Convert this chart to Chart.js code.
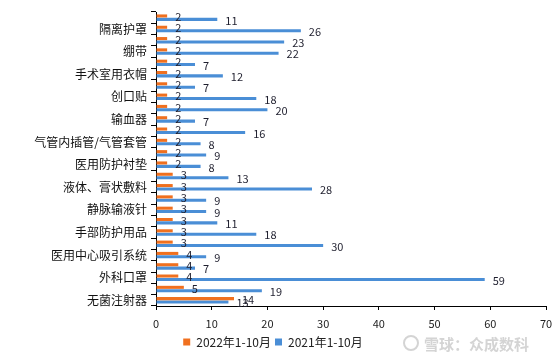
<!DOCTYPE html>
<html>
<head>
<meta charset="utf-8">
<script src="https://cdn.jsdelivr.net/npm/chart.js@4.4.1/dist/chart.umd.min.js"></script>
<style>
  html, body { margin: 0; padding: 0; background: #fff; }
  #wrap { width: 555px; height: 362px; }
</style>
</head>
<body>
<div id="wrap"><canvas id="chart" width="555" height="362"></canvas></div>
<script>
// 类别（自上而下），只有隔行的名称可读，其余留空
const categories = [
  "", "隔离护罩", "", "绷带", "", "手术室用衣帽", "", "创口贴", "", "输血器",
  "", "气管内插管/气管套管", "", "医用防护衬垫", "", "液体、膏状敷料", "", "静脉输液针",
  "", "手部防护用品", "", "医用中心吸引系统", "", "外科口罩", "", "无菌注射器"
];
const series2022 = [2, 2, 2, 2, 2, 2, 2, 2, 2, 2, 2, 2, 2, 2, 3, 3, 3, 3, 3, 3, 3, 4, 4, 4, 5, 14];
const series2021 = [11, 26, 23, 22, 7, 12, 7, 18, 20, 7, 16, 8, 9, 8, 13, 28, 9, 9, 11, 18, 30, 9, 7, 59, 19, 13];
const xTicks = [0, 10, 20, 30, 40, 50, 60, 70];

const FONT = "'Noto Sans CJK SC', 'Noto Sans', sans-serif";

// 数值标签
const valueLabels = {
  id: "valueLabels",
  afterDatasetsDraw(chart) {
    const ctx = chart.ctx;
    ctx.save();
    ctx.font = "11px " + FONT;
    ctx.fillStyle = "#1f1f2e";
    ctx.textAlign = "left";
    ctx.textBaseline = "middle";
    chart.data.datasets.forEach((ds, i) => {
      const meta = chart.getDatasetMeta(i);
      meta.data.forEach((bar, j) => {
        ctx.fillText(String(ds.data[j]), bar.x + 8, bar.y + 1);
      });
    });
    ctx.restore();
  }
};

// 右下角水印
const watermark = {
  id: "watermark",
  afterDraw(chart) {
    const ctx = chart.ctx;
    ctx.save();
    ctx.fillStyle = "#d4d4d4";
    ctx.strokeStyle = "#d4d4d4";
    ctx.lineWidth = 2;
    ctx.beginPath();
    ctx.arc(411, 343, 7, 0, Math.PI * 2);
    ctx.stroke();
    ctx.font = "bold 15px " + FONT;
    ctx.textBaseline = "middle";
    ctx.fillText("雪球：众成数科", 424, 344);
    ctx.restore();
  }
};

new Chart(document.getElementById("chart").getContext("2d"), {
  type: "bar",
  data: {
    labels: categories,
    datasets: [
      {
        label: "2022年1-10月",
        data: series2022,
        backgroundColor: "#f0701f",
        barPercentage: 0.9,
        categoryPercentage: 0.6,
      },
      {
        label: "2021年1-10月",
        data: series2021,
        backgroundColor: "#4a8ed6",
        barPercentage: 0.9,
        categoryPercentage: 0.6,
      },
    ],
  },
  options: {
    indexAxis: "y",
    responsive: false,
    animation: false,
    layout: { padding: { top: 12, right: 9, bottom: 4, left: 0 } },
    plugins: {
      legend: {
        position: "bottom",
        labels: {
          boxWidth: 7,
          boxHeight: 7,
          padding: 4,
          color: "#222",
          font: { family: FONT, size: 12 },
        },
      },
      tooltip: { enabled: false },
    },
    scales: {
      x: {
        min: 0,
        max: 70,
        afterBuildTicks(scale) {
          scale.ticks = xTicks.map((v) => ({ value: v }));
        },
        afterFit(scale) {
          scale.height = 26;
          scale.paddingLeft = 0;
          scale.paddingRight = 0;
        },
        grid: { drawOnChartArea: false, drawTicks: true, tickLength: 4, tickColor: "#000" },
        border: { color: "#000", width: 1 },
        ticks: { color: "#222", padding: 7, font: { family: FONT, size: 11 } },
      },
      y: {
        afterFit(scale) { scale.width = 156; },
        grid: { drawOnChartArea: false, drawTicks: true, tickLength: 5, tickColor: "#000", offset: true },
        border: { color: "#000", width: 1 },
        ticks: { autoSkip: false, color: "#111", padding: 4, font: { family: FONT, size: 12 } },
      },
    },
  },
  plugins: [valueLabels, watermark],
});
</script>
</body>
</html>
